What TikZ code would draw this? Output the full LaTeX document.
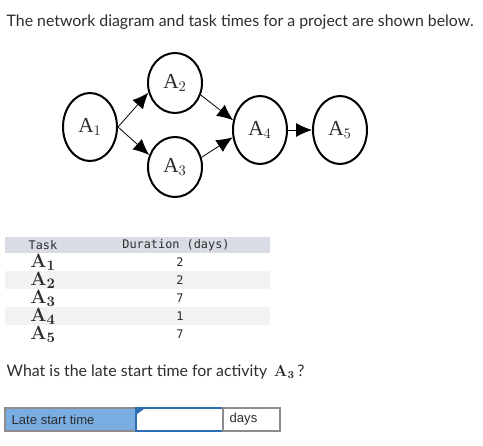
\documentclass[tikz,border=0pt]{standalone}
\usepackage[no-math]{fontspec}
\setmainfont{Lato}
\setmonofont{DejaVu Sans Mono}
\newfontfamily\ndserif{Liberation Serif}
\newfontfamily\ndform{Liberation Sans}
\usetikzlibrary{arrows.meta,shapes.geometric}
\definecolor{ndink}{HTML}{2D2D2D}
\definecolor{ndhead}{HTML}{D9DCE5}
\definecolor{ndrow}{HTML}{F2F2F2}
\definecolor{ndblue}{HTML}{7AAEE3}
\definecolor{ndframe}{HTML}{2F6DB5}
\definecolor{ndgray}{HTML}{8C8C8C}
\tikzset{
  nd text/.style={font=\fontsize{11.9}{14}\selectfont, text=ndink},
  nd event/.style={draw=black, line width=1.5pt, ellipse, minimum width=40.5pt,
    minimum height=51pt, inner sep=0pt, font=\ndserif\fontsize{16}{17}\selectfont},
  nd arrow/.style={-{Latex[length=12pt,width=10.5pt]}, line width=0.6pt, draw=black},
  nd cell/.style={font=\ttfamily\fontsize{8.9}{10}\selectfont, text=ndink, inner sep=1pt},
  nd task/.style={font=\fontsize{15}{15}\selectfont, inner sep=0pt},
  nd form/.style={font=\ndform\fontsize{9.8}{11}\selectfont, text=ndink, anchor=west}
}
\begin{document}
\begin{tikzpicture}[nd text, x=0.75pt, y=-0.75pt]
  \useasboundingbox[fill=white] (0,0) rectangle (483,446);
  \node[anchor=west] (title) at (2,22) {The network diagram and task times for a project are shown below.};
  % network
  \node[nd event] (a1) at (90,127) {A$_1$};
  \node[nd event, minimum height=45pt] (a2) at (175,83) {A$_2$};
  \node[nd event, minimum height=45pt] (a3) at (175,167) {A$_3$};
  \node[nd event] (a4) at (260,130) {A$_4$};
  \node[nd event] (a5) at (340,130) {A$_5$};
  \draw[nd arrow] (a1.east) -- (a2.-160);
  \draw[nd arrow] (a1.east) -- (a3.155);
  \draw[nd arrow] (a2.-25) -- (a4.160);
  \draw[nd arrow] (a3.20) -- (a4.-165);
  \draw[nd arrow] (a4.east) -- (a5.west);
  % table
  \fill[ndhead] (5,237) rectangle (270,253);
  \fill[ndrow] (5,271) rectangle (270,289);
  \fill[ndrow] (5,307) rectangle (270,325);
  \node[nd cell] (hdtask) at (43,245) {Task};
  \node[nd cell] (hddur) at (176,245) {Duration (days)};
  \foreach \i/\d in {1/2,2/2,3/7,4/1,5/7} {
    \node[nd task] (t\i) at (43,244+18*\i) {$\mathbf{A_{\i}}$};
    \node[nd cell] (d\i) at (180,244+18*\i) {\d};
  }
  \node[anchor=west] (quest) at (2,372) {What is the late start time for activity \,$\mathbf{A_3}$\,?};
  % answer row
  \draw[ndgray, fill=ndblue, line width=0.8pt] (5,408) rectangle (136,431);
  \draw[ndframe, fill=white, line width=1pt] (136,408) rectangle (223,431);
  \draw[ndgray, fill=white, line width=0.8pt] (223,408) rectangle (280,431);
  \fill[ndframe] (137,409) -- (144,409) -- (137,414) -- cycle;
  \node[nd form] (lst) at (7,419.5) {Late start time};
  \node[nd form] (days) at (225,419.5) {days};
\end{tikzpicture}
\end{document}
